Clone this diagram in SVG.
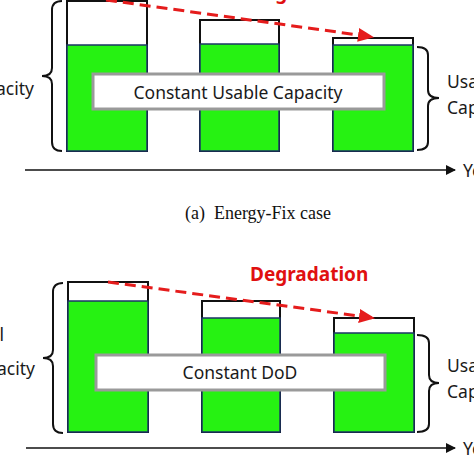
<svg xmlns="http://www.w3.org/2000/svg" width="474" height="474" viewBox="0 0 474 474">
<defs>
<style>
.bar{fill:#fff;stroke:#111;stroke-width:2}
.fill{fill:#26f212;stroke:#1b3566;stroke-width:1.5}
.box{fill:#fff;stroke:#9a9a9a;stroke-width:3}
.lbl{font-family:"Noto Sans","Open Sans",sans-serif;font-size:17.5px;fill:#1a1a1a}
.deg{font-family:"Noto Sans","Open Sans",sans-serif;font-size:19px;font-weight:bold;fill:#e01010}
.cap{font-family:"Liberation Serif","Times New Roman",serif;font-size:18px;fill:#111}
.brace{fill:none;stroke:#111;stroke-width:2}
.axis{fill:none;stroke:#111;stroke-width:1.6}
.dash{fill:none;stroke:#e51c1c;stroke-width:3;stroke-dasharray:11 6}
</style>
<marker id="ah" markerWidth="10" markerHeight="10" refX="9" refY="5" orient="auto" markerUnits="userSpaceOnUse"><path d="M0,0 L10,5 L0,10 Z" fill="#111"/></marker>
<marker id="rh" markerWidth="16" markerHeight="14" refX="15" refY="7" orient="auto" markerUnits="userSpaceOnUse"><path d="M0,0 L16,7 L0,14 Z" fill="#e51c1c"/></marker>
</defs>

<!-- Panel (a) -->
<g id="a-bar1"><rect class="bar" x="67" y="1" width="80" height="150"/><rect class="fill" x="67" y="45" width="80" height="106"/></g>
<g id="a-bar2"><rect class="bar" x="200" y="20" width="79" height="131"/><rect class="fill" x="200" y="44" width="79" height="107"/></g>
<g id="a-bar3"><rect class="bar" x="333" y="38" width="80" height="113"/><rect class="fill" x="333" y="45" width="80" height="106"/></g>
<g id="a-box"><rect class="box" x="93" y="74" width="291" height="35"/><text class="lbl" x="238" y="99" text-anchor="middle">Constant Usable Capacity</text></g>
<g id="a-left"><path class="brace" d="M62,1 Q52,1 52,10 L52,68 Q52,76 42,76 Q52,76 52,84 L52,142 Q52,151 62,151"/><text class="lbl" x="34" y="95" text-anchor="end">Capacity</text></g>
<g id="a-right"><path class="brace" d="M417,47 Q428,47 428,55 L428,90 Q428,98 439,98 Q428,98 428,106 L428,142 Q428,150 417,150"/><text class="lbl" x="447" y="88">Usable</text><text class="lbl" x="447" y="114">Capacity</text></g>
<g id="a-deg"><text class="deg" x="250" y="-1">Degradation</text></g>
<g id="a-axis"><text class="lbl" x="463" y="177">Year</text></g>
<g id="caption"><text class="cap" x="258" y="219" text-anchor="middle" xml:space="preserve">(a)  Energy-Fix case</text></g>

<!-- Panel (b) -->
<g id="b-bar1"><rect class="bar" x="68" y="282" width="80" height="150"/><rect class="fill" x="68" y="301" width="80" height="131"/></g>
<g id="b-bar2"><rect class="bar" x="202" y="301" width="78" height="131"/><rect class="fill" x="202" y="318" width="78" height="114"/></g>
<g id="b-bar3"><rect class="bar" x="334" y="318" width="80" height="114"/><rect class="fill" x="334" y="333" width="80" height="99"/></g>
<g id="b-box"><rect class="box" x="96" y="355" width="289" height="35"/><text class="lbl" x="240" y="379" text-anchor="middle">Constant DoD</text></g>
<g id="b-left"><path class="brace" d="M63,283 Q53,283 53,292 L53,350 Q53,358 43,358 Q53,358 53,366 L53,424 Q53,433 63,433"/><text class="lbl" x="4" y="341" text-anchor="end">Total</text><text class="lbl" x="35" y="375" text-anchor="end">Capacity</text></g>
<g id="b-right"><path class="brace" d="M417,335 Q429,335 429,343 L429,375 Q429,383 439,383 Q429,383 429,391 L429,424 Q429,432 417,432"/><text class="lbl" x="447" y="372">Usable</text><text class="lbl" x="447" y="398">Capacity</text></g>
<g id="b-deg"><text class="deg" x="250" y="281">Degradation</text></g>
<g id="b-axis"><text class="lbl" x="463" y="455">Year</text></g>

<g id="connectors">
<line class="axis" x1="25" y1="170" x2="455" y2="170" marker-end="url(#ah)"/>
<line class="axis" x1="26" y1="448" x2="455" y2="448" marker-end="url(#ah)"/>
<line class="dash" x1="106" y1="0" x2="373" y2="37" marker-end="url(#rh)"/>
<line class="dash" x1="108" y1="282" x2="374" y2="318" marker-end="url(#rh)"/>
</g>
</svg>
